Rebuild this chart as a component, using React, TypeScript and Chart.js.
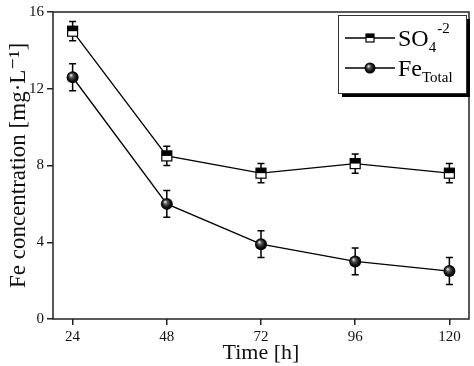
import { useEffect, useRef } from "react";
import { Chart, registerables } from "chart.js";
Chart.register(...registerables);

const times = [24, 48, 72, 96, 120];
const so4 = [15.0, 8.5, 7.6, 8.1, 7.6];
const so4Err = [0.5, 0.5, 0.5, 0.5, 0.5];
const feTotal = [12.6, 6.0, 3.9, 3.0, 2.5];
const feErr = [0.7, 0.7, 0.7, 0.7, 0.7];
const xTicks = [24, 48, 72, 96, 120];
const yTicks = [0, 4, 8, 12, 16];

const SERIF = "'Liberation Serif', 'DejaVu Serif', serif";

function drawSquare(ctx: CanvasRenderingContext2D, x: number, y: number, s: number) {
  const h = s / 2;
  ctx.save();
  ctx.fillStyle = "#fff";
  ctx.fillRect(x - h, y - h, s, s);
  ctx.fillStyle = "#000";
  ctx.fillRect(x - h, y - h, s, s / 2);
  ctx.strokeStyle = "#000";
  ctx.lineWidth = 1.2;
  ctx.strokeRect(x - h, y - h, s, s);
  ctx.restore();
}

function drawBall(ctx: CanvasRenderingContext2D, x: number, y: number, r: number) {
  ctx.save();
  const g = ctx.createRadialGradient(x - r * 0.3, y - r * 0.35, r * 0.05, x, y, r);
  g.addColorStop(0, "#e8e8e8");
  g.addColorStop(0.3, "#555");
  g.addColorStop(0.7, "#111");
  g.addColorStop(1, "#000");
  ctx.fillStyle = g;
  ctx.beginPath();
  ctx.arc(x, y, r, 0, Math.PI * 2);
  ctx.fill();
  ctx.restore();
}

const customPlugin = {
  id: "custom",
  afterDatasetsDraw(chart: any) {
    const ctx = chart.ctx as CanvasRenderingContext2D;
    const xs = chart.scales.x;
    const ys = chart.scales.y;
    const series = [
      { vals: so4, errs: so4Err, kind: "sq" },
      { vals: feTotal, errs: feErr, kind: "ball" },
    ];
    // error bars
    ctx.save();
    ctx.strokeStyle = "#000";
    ctx.lineWidth = 1.5;
    series.forEach((s) => {
      s.vals.forEach((v, i) => {
        const px = xs.getPixelForValue(times[i]);
        const top = ys.getPixelForValue(v + s.errs[i]);
        const bot = ys.getPixelForValue(v - s.errs[i]);
        ctx.beginPath();
        ctx.moveTo(px, top);
        ctx.lineTo(px, bot);
        ctx.moveTo(px - 3.5, top);
        ctx.lineTo(px + 3.5, top);
        ctx.moveTo(px - 3.5, bot);
        ctx.lineTo(px + 3.5, bot);
        ctx.stroke();
      });
    });
    ctx.restore();
    // markers
    series.forEach((s) => {
      s.vals.forEach((v, i) => {
        const px = xs.getPixelForValue(times[i]);
        const py = ys.getPixelForValue(v);
        if (s.kind === "sq") drawSquare(ctx, px, py, 10);
        else drawBall(ctx, px, py, 6);
      });
    });
    // frame
    const a = chart.chartArea;
    ctx.save();
    ctx.strokeStyle = "#222";
    ctx.lineWidth = 1.5;
    ctx.strokeRect(a.left, a.top, a.right - a.left, a.bottom - a.top);
    ctx.restore();
    // legend
    const lx = 338, ly = 15, lw = 128, lh = 78;
    ctx.save();
    ctx.fillStyle = "#000";
    ctx.fillRect(lx + 4, ly + 4, lw, lh);
    ctx.fillStyle = "#fff";
    ctx.fillRect(lx, ly, lw, lh);
    ctx.strokeStyle = "#333";
    ctx.lineWidth = 1;
    ctx.strokeRect(lx + 0.5, ly + 0.5, lw, lh);
    const rows = [38, 68];
    ctx.strokeStyle = "#000";
    ctx.lineWidth = 1.3;
    rows.forEach((ry) => {
      ctx.beginPath();
      ctx.moveTo(345, ry);
      ctx.lineTo(395, ry);
      ctx.stroke();
    });
    drawSquare(ctx, 370, rows[0], 8);
    drawBall(ctx, 370, rows[1], 5.5);
    ctx.fillStyle = "#000";
    ctx.textBaseline = "alphabetic";
    ctx.textAlign = "left";
    ctx.font = `24px ${SERIF}`;
    ctx.fillText("SO", 398, rows[0] + 8);
    let w = ctx.measureText("SO").width;
    ctx.font = `15px ${SERIF}`;
    ctx.fillText("4", 398 + w, rows[0] + 14);
    const w4 = ctx.measureText("4").width;
    ctx.fillText("-2", 398 + w + w4 + 1, rows[0] - 5);
    ctx.font = `24px ${SERIF}`;
    ctx.fillText("Fe", 398, rows[1] + 8);
    w = ctx.measureText("Fe").width;
    ctx.font = `15px ${SERIF}`;
    ctx.fillText("Total", 398 + w, rows[1] + 14);
    ctx.restore();
  },
};

export default function App() {
  const ref = useRef<HTMLCanvasElement | null>(null);
  useEffect(() => {
    if (!ref.current) return;
    const chart = new Chart(ref.current, {
      type: "line",
      data: {
        datasets: [
          {
            label: "SO4-2",
            data: times.map((t, i) => ({ x: t, y: so4[i] })),
            borderColor: "#000",
            borderWidth: 1.3,
            pointRadius: 0,
            tension: 0,
          },
          {
            label: "FeTotal",
            data: times.map((t, i) => ({ x: t, y: feTotal[i] })),
            borderColor: "#000",
            borderWidth: 1.3,
            pointRadius: 0,
            tension: 0,
          },
        ],
      },
      options: {
        animation: false,
        responsive: false,
        events: [],
        layout: { padding: { top: 10, right: 5, left: 0, bottom: 0 } },
        plugins: { legend: { display: false }, tooltip: { enabled: false } },
        scales: {
          x: {
            type: "linear",
            min: 19,
            max: 125,
            afterBuildTicks: (s: any) => {
              s.ticks = xTicks.map((v) => ({ value: v }));
            },
            afterFit: (s: any) => {
              s.height = 47;
            },
            grid: { drawOnChartArea: false, drawTicks: true, tickLength: 6, color: "#222", lineWidth: 1.5 },
            border: { display: false },
            ticks: { color: "#111", font: { family: SERIF, size: 15 }, padding: 3, maxRotation: 0 },
            title: {
              display: true,
              text: "Time [h]",
              color: "#111",
              font: { family: SERIF, size: 22 },
              padding: { top: -5, bottom: 0 },
            },
          },
          y: {
            min: 0,
            max: 16,
            afterBuildTicks: (s: any) => {
              s.ticks = yTicks.map((v) => ({ value: v }));
            },
            afterFit: (s: any) => {
              s.width = 53;
            },
            grid: { drawOnChartArea: false, drawTicks: true, tickLength: 6, color: "#222", lineWidth: 1.5 },
            border: { display: false },
            ticks: { color: "#111", font: { family: SERIF, size: 15 }, padding: 3 },
            title: {
              display: true,
              text: "Fe concentration [mg·L⁻¹]",
              color: "#111",
              font: { family: SERIF, size: 23 },
              padding: { top: 5, bottom: 0 },
            },
          },
        },
      },
      plugins: [customPlugin],
    });
    return () => chart.destroy();
  }, []);
  return (
    <div style={{ position: "absolute", left: 0, top: 0, width: 474, height: 366, background: "#fff" }}>
      <canvas ref={ref} width={474} height={366} style={{ width: 474, height: 366 }} />
    </div>
  );
}
